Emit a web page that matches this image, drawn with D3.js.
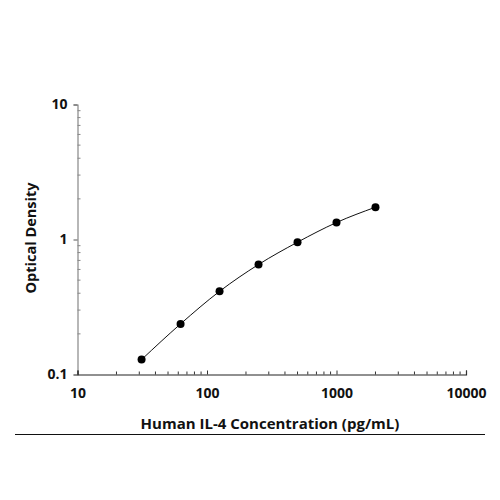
<!DOCTYPE html>
<html lang="en">
<head>
<meta charset="UTF-8">
<title>IL-4 Standard Curve</title>
<script src="https://cdnjs.cloudflare.com/ajax/libs/d3/7.8.5/d3.min.js"></script>
<style>
    body { margin: 0; background: #fff; }
    svg { display: block; }
    text { font-family: "Open Sans", Arial, sans-serif; font-weight: bold; fill: #111; }
</style>
</head>
<body>
<svg width="500" height="500"></svg>
<script>
    // standard curve data
    const concentration = [31.25, 62.5, 125, 250, 500, 1000, 2000];
    const opticalDensity = [0.129, 0.237, 0.413, 0.653, 0.955, 1.336, 1.735];
    const xTickValues = [10, 100, 1000, 10000];
    const yTickValues = [0.1, 1, 10];

    const svg = d3.select("svg");

    const x = d3.scaleLog().domain([10, 10000]).range([77.5, 466]);
    const y = d3.scaleLog().domain([0.1, 10]).range([374.5, 104.5]);

    // minor ticks (pointing inside)
    const xMinor = d3.range(1, 4).flatMap(p => d3.range(2, 10).map(k => k * Math.pow(10, p)));
    const yMinor = d3.range(-1, 1).flatMap(p => d3.range(2, 10).map(k => k * Math.pow(10, p)));

    svg.append("g").selectAll("line").data(yMinor).join("line")
        .attr("x1", x(10)).attr("x2", x(10) + 3)
        .attr("y1", d => y(d)).attr("y2", d => y(d))
        .attr("stroke", "#888").attr("stroke-width", 1);

    svg.append("g").selectAll("line").data(xMinor).join("line")
        .attr("x1", d => x(d)).attr("x2", d => x(d))
        .attr("y1", y(0.1)).attr("y2", y(0.1) - 3)
        .attr("stroke", "#333").attr("stroke-width", 1);

    // y axis
    const yAxis = svg.append("g")
        .attr("transform", `translate(${x(10)},0)`)
        .call(d3.axisLeft(y).tickValues(yTickValues).tickFormat(d3.format("~g")).tickSize(4).tickPadding(6));
    yAxis.attr("font-size", null).attr("font-family", null);
    yAxis.select(".domain").attr("stroke", "#888").attr("stroke-width", 1.2);
    yAxis.selectAll(".tick line").attr("stroke", "#555");
    yAxis.selectAll(".tick text").style("font-size", "14px").style("fill", "#111");

    // x axis
    const xAxis = svg.append("g")
        .attr("transform", `translate(0,${y(0.1)})`)
        .call(d3.axisBottom(x).tickValues(xTickValues).tickFormat(d3.format("d")).tickSize(-4).tickPadding(14));
    xAxis.attr("font-size", null).attr("font-family", null);
    xAxis.select(".domain").attr("stroke", "#222").attr("stroke-width", 1.2);
    xAxis.selectAll(".tick line").attr("stroke", "#333");
    xAxis.selectAll(".tick text").style("font-size", "14px").style("fill", "#111");

    // fitted curve
    const pts = concentration.map((c, i) => [c, opticalDensity[i]]);
    const line = d3.line()
        .x(d => x(d[0]))
        .y(d => y(d[1]))
        .curve(d3.curveMonotoneX);

    svg.append("path")
        .datum(pts)
        .attr("d", line)
        .attr("fill", "none")
        .attr("stroke", "#111")
        .attr("stroke-width", 1);

    svg.append("g").selectAll("circle").data(pts).join("circle")
        .attr("cx", d => x(d[0]))
        .attr("cy", d => y(d[1]))
        .attr("r", 4)
        .attr("fill", "#000");

    // axis titles
    svg.append("text")
        .attr("x", 270).attr("y", 429)
        .attr("text-anchor", "middle")
        .style("font-size", "15px")
        .text("Human IL-4 Concentration (pg/mL)");

    svg.append("text")
        .attr("transform", "translate(36,238) rotate(-90)")
        .attr("text-anchor", "middle")
        .style("font-size", "14.5px")
        .text("Optical Density");

    // rule under the chart
    svg.append("line")
        .attr("x1", 15).attr("x2", 485)
        .attr("y1", 434.5).attr("y2", 434.5)
        .attr("stroke", "#111").attr("stroke-width", 1.2);
</script>
</body>
</html>
